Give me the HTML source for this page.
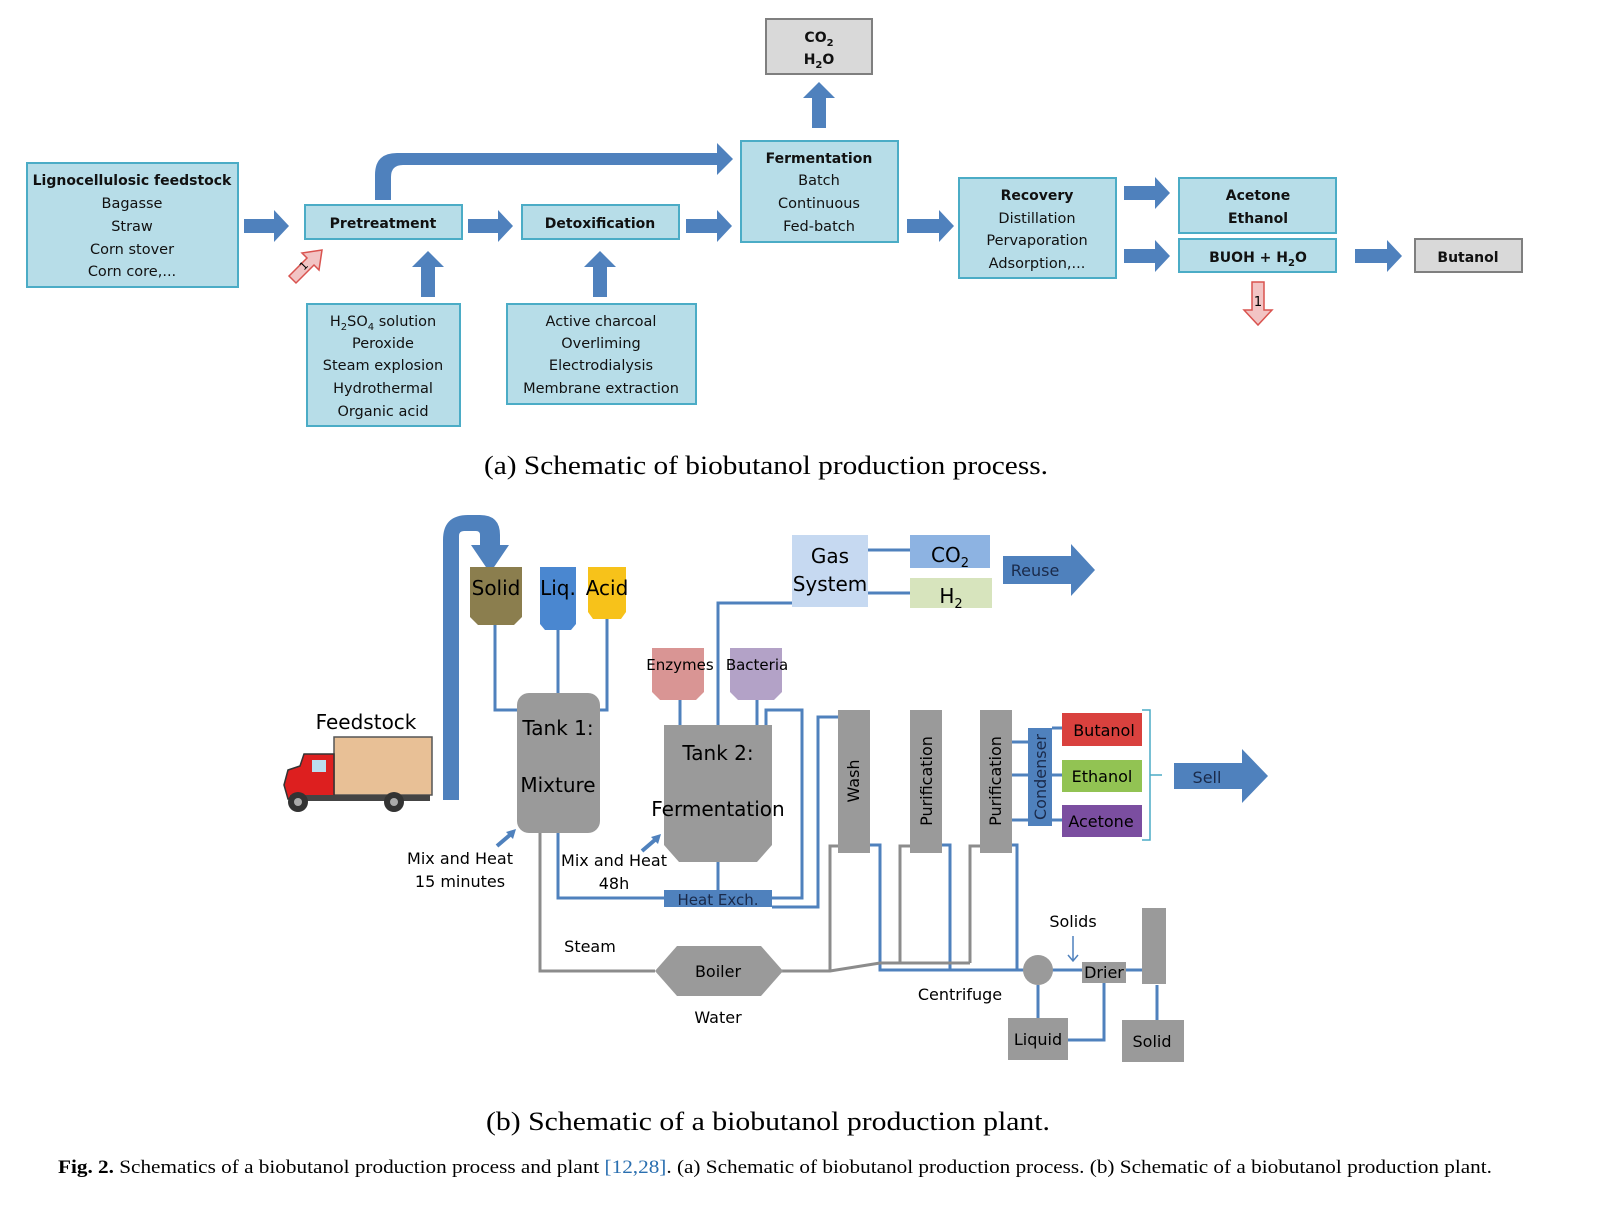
<!DOCTYPE html>
<html><head><meta charset="utf-8"><style>
html,body{margin:0;padding:0;background:#fff;}
svg{display:block;}
text{font-family:"DejaVu Sans","Liberation Sans",sans-serif;}
.t{font-size:14.5px;fill:#111;text-anchor:middle;}
.b{font-weight:bold;font-size:14px;}
.s{font-family:"Liberation Serif",serif;}
.box{fill:#b7dde8;stroke:#4bacc6;stroke-width:2;}
.gbox{fill:#d9d9d9;stroke:#7f7f7f;stroke-width:2;}
.arr{fill:#4f81bd;}
.bl{stroke:#4f81bd;stroke-width:3;fill:none;}
.gl{stroke:#8c8c8c;stroke-width:3;fill:none;}
.g{fill:#9a9a9a;}
</style></head><body>
<svg width="1600" height="1219" viewBox="0 0 1600 1219" xmlns="http://www.w3.org/2000/svg">
<rect class="box" x="27" y="163" width="211" height="124"/>
<text class="t b" x="132" y="185">Lignocellulosic feedstock</text>
<text class="t" x="132" y="208">Bagasse</text>
<text class="t" x="132" y="231">Straw</text>
<text class="t" x="132" y="254">Corn stover</text>
<text class="t" x="132" y="276">Corn core,...</text>

<rect class="box" x="305" y="205" width="157" height="34"/>
<text class="t b" x="383" y="228">Pretreatment</text>
<rect class="box" x="522" y="205" width="157" height="34"/>
<text class="t b" x="600" y="228">Detoxification</text>
<rect class="box" x="741" y="141" width="157" height="101"/>
<text class="t b" x="819" y="163">Fermentation</text>
<text class="t" x="819" y="185">Batch</text>
<text class="t" x="819" y="208">Continuous</text>
<text class="t" x="819" y="231">Fed-batch</text>
<rect class="box" x="959" y="178" width="157" height="100"/>
<text class="t b" x="1037" y="200">Recovery</text>
<text class="t" x="1037" y="223">Distillation</text>
<text class="t" x="1037" y="245">Pervaporation</text>
<text class="t" x="1037" y="268">Adsorption,...</text>
<rect class="box" x="1179" y="178" width="157" height="55"/>
<text class="t b" x="1258" y="200">Acetone</text>
<text class="t b" x="1258" y="223">Ethanol</text>
<rect class="box" x="1179" y="239" width="157" height="33"/>
<text class="t b" x="1258" y="262">BUOH + H<tspan font-size="10" dy="4">2</tspan><tspan dy="-4">O</tspan></text>
<rect class="gbox" x="1415" y="239" width="107" height="33"/>
<text class="t b" x="1468" y="262">Butanol</text>
<rect class="gbox" x="766" y="19" width="106" height="55"/>
<text class="t b" x="819" y="42">CO<tspan font-size="10" dy="4">2</tspan></text>
<text class="t b" x="819" y="64">H<tspan font-size="10" dy="4">2</tspan><tspan dy="-4">O</tspan></text>
<rect class="box" x="307" y="304" width="153" height="122"/>
<text class="t" x="383" y="326">H<tspan font-size="10" dy="4">2</tspan><tspan dy="-4">SO</tspan><tspan font-size="10" dy="4">4</tspan><tspan dy="-4"> solution</tspan></text>
<text class="t" x="383" y="348">Peroxide</text>
<text class="t" x="383" y="370">Steam explosion</text>
<text class="t" x="383" y="393">Hydrothermal</text>
<text class="t" x="383" y="416">Organic acid</text>
<rect class="box" x="507" y="304" width="189" height="100"/>
<text class="t" x="601" y="326">Active charcoal</text>
<text class="t" x="601" y="348">Overliming</text>
<text class="t" x="601" y="370">Electrodialysis</text>
<text class="t" x="601" y="393">Membrane extraction</text>

<g class="arr">
<path d="M244 219h30v-9l15 16-15 16v-9h-30z"/>
<path d="M468 219h30v-9l15 16-15 16v-9h-30z"/>
<path d="M686 219h31v-9l15 16-15 16v-9h-31z"/>
<path d="M907 219h32v-9l15 16-15 16v-9h-32z"/>
<path d="M1124 186h31v-9l15 16-15 16v-9h-31z"/>
<path d="M1124 249h31v-9l15 16-15 16v-9h-31z"/>
<path d="M1355 249h32v-9l15 16-15 16v-9h-32z"/>
<path d="M421 297v-30h-9l16-16 16 16h-9v30z"/>
<path d="M593 297v-30h-9l16-16 16 16h-9v30z"/>
<path d="M812 128v-30h-9l16-16 16 16h-9v30z"/>
<path d="M375 200v-25q0-22 22-22h320v-10l16 16-16 16v-10h-314q-12 0-12 12v23z"/>
</g>
<path d="M289 276l18-18-5-5 20-3-3 20-5-5-18 18z" fill="#f2c4c4" stroke="#d9534f" stroke-width="1.5"/>
<text x="301" y="272" font-size="11" transform="rotate(-45 301 268)">1</text>
<path d="M1252 282v28h-8l14 15 14-15h-8v-28z" fill="#f2c4c4" stroke="#d9534f" stroke-width="1.5"/>
<text x="1258" y="306" font-size="13" text-anchor="middle">1</text>

<text class="s" x="484" y="474" font-size="26" textLength="564" lengthAdjust="spacingAndGlyphs">(a) Schematic of biobutanol production process.</text>

<g class="bl">
<path d="M495 615v95h22"/>
<path d="M558 615v80"/>
<path d="M607 615v95h-8"/>
<path d="M680 695v30"/>
<path d="M757 695v30"/>
<path d="M718 725v-122h75"/>
<path d="M868 550h42M868 593h42"/>
<path d="M558 833v65h108"/>
<path d="M718 860v30"/>
<path d="M770 898h32v-188h-36v15"/>
<path d="M772 907h46v-190h20"/>
<path d="M868 845h12v125h145"/>
<path d="M938 845h12v125"/>
<path d="M1005 845h12v125"/>
<path d="M1010 742h20M1010 775h20M1010 820h20"/>
<path d="M1052 728h10M1052 775h10M1052 820h10"/>
<path d="M1052 970h30M1124 970h20"/>
<path d="M1038 985v55h-30"/>
<path d="M1104 980v60h-38"/>
<path d="M1157 985v35"/>
</g>
<g class="gl">
<path d="M540 833v138h115"/>
<path d="M780 971h50l50-8h90"/>
<path d="M830 971v-125h10"/>
<path d="M900 963v-117h12"/>
<path d="M970 963v-117h10"/>
</g>
<path d="M1142 710h8v130h-8M1150 775h12" stroke="#4bacc6" stroke-width="1.5" fill="none"/>

<path class="arr" d="M443 800v-260q0-25 25-25h12q20 0 20 20v10h9l-19 28-19-28h9v-10q0-4-4-4h-12q-5 0-5 5v264z"/>

<rect x="334" y="737" width="98" height="58" fill="#e8c096" stroke="#555" stroke-width="1.5"/>
<path d="M284 785l4-15 12-4 4-12 30 0v45h-46z" fill="#dd1f1f" stroke="#333" stroke-width="1.5"/>
<rect x="312" y="760" width="14" height="12" fill="#bde"/>
<rect x="290" y="795" width="140" height="6" fill="#444"/>
<circle cx="298" cy="802" r="10" fill="#333"/><circle cx="298" cy="802" r="4" fill="#aaa"/>
<circle cx="394" cy="802" r="10" fill="#333"/><circle cx="394" cy="802" r="4" fill="#aaa"/>
<text x="366" y="729" font-size="20" text-anchor="middle">Feedstock</text>

<path d="M470 567h52v50l-8 8h-36l-8-8z" fill="#8b7e4e"/>
<text x="496" y="595" font-size="20" text-anchor="middle">Solid</text>
<path d="M540 567h36v57l-5 6h-26l-5-6z" fill="#4a87d0"/>
<text x="558" y="595" font-size="20" text-anchor="middle">Liq.</text>
<path d="M588 567h38v45l-5 7h-28l-5-7z" fill="#f7c21a"/>
<text x="607" y="595" font-size="20" text-anchor="middle">Acid</text>
<path d="M652 648h52v44l-8 8h-36l-8-8z" fill="#d99594"/>
<text x="680" y="670" font-size="15" text-anchor="middle">Enzymes</text>
<path d="M730 648h52v44l-8 8h-36l-8-8z" fill="#b3a2c7"/>
<text x="757" y="670" font-size="15" text-anchor="middle">Bacteria</text>

<rect x="517" y="693" width="83" height="140" rx="12" class="g"/>
<text x="558" y="735" font-size="20" text-anchor="middle">Tank 1:</text>
<text x="558" y="792" font-size="20" text-anchor="middle">Mixture</text>
<path d="M664 725h108v120l-15 17h-78l-15-17z" class="g"/>
<text x="718" y="760" font-size="20" text-anchor="middle">Tank 2:</text>
<text x="718" y="816" font-size="20" text-anchor="middle">Fermentation</text>
<path d="M497 846l14-12" stroke="#4f81bd" stroke-width="4"/><path d="M516 829l-3 10-7-7z" fill="#4f81bd"/>
<path d="M642 851l14-12" stroke="#4f81bd" stroke-width="4"/><path d="M661 834l-3 10-7-7z" fill="#4f81bd"/>
<text x="460" y="864" font-size="16" text-anchor="middle">Mix and Heat</text>
<text x="460" y="887" font-size="16" text-anchor="middle">15 minutes</text>
<text x="614" y="866" font-size="16" text-anchor="middle">Mix and Heat</text>
<text x="614" y="889" font-size="16" text-anchor="middle">48h</text>
<rect x="664" y="890" width="108" height="17" fill="#4f81bd"/>
<text x="718" y="905" font-size="15" text-anchor="middle" fill="#1a2a4a">Heat Exch.</text>

<rect x="792" y="535" width="76" height="72" fill="#c6d9f1"/>
<text x="830" y="563" font-size="20" text-anchor="middle">Gas</text>
<text x="830" y="591" font-size="20" text-anchor="middle">System</text>
<rect x="910" y="535" width="80" height="33" fill="#8db3e2"/>
<text x="950" y="562" font-size="20" text-anchor="middle">CO<tspan font-size="13" dy="5">2</tspan></text>
<rect x="910" y="578" width="82" height="30" fill="#d7e4bd"/>
<text x="951" y="603" font-size="20" text-anchor="middle">H<tspan font-size="13" dy="5">2</tspan></text>
<path class="arr" d="M1003 556h68v-12l24 26-24 26v-12h-68z"/>
<text x="1035" y="576" font-size="16" text-anchor="middle" fill="#1a2a4a">Reuse</text>

<rect x="838" y="710" width="32" height="143" class="g"/>
<text font-size="16" transform="translate(859 781) rotate(-90)" text-anchor="middle">Wash</text>
<rect x="910" y="710" width="32" height="143" class="g"/>
<text font-size="16" transform="translate(932 781) rotate(-90)" text-anchor="middle">Purification</text>
<rect x="980" y="710" width="32" height="143" class="g"/>
<text font-size="16" transform="translate(1001 781) rotate(-90)" text-anchor="middle">Purification</text>
<rect x="1028" y="728" width="24" height="98" fill="#4f81bd"/>
<text font-size="16" fill="#1a2a4a" transform="translate(1046 777) rotate(-90)" text-anchor="middle">Condenser</text>
<rect x="1062" y="713" width="80" height="33" fill="#d9413e"/>
<text x="1104" y="736" font-size="16" text-anchor="middle">Butanol</text>
<rect x="1062" y="760" width="80" height="32" fill="#92c353"/>
<text x="1102" y="782" font-size="16" text-anchor="middle">Ethanol</text>
<rect x="1062" y="805" width="80" height="32" fill="#7b4ea0"/>
<text x="1101" y="827" font-size="16" text-anchor="middle">Acetone</text>
<path class="arr" d="M1174 763h68v-14l26 27-26 27v-14h-68z"/>
<text x="1207" y="783" font-size="16" text-anchor="middle" fill="#1a2a4a">Sell</text>

<path d="M655 971l22-25h84l22 25-22 25h-84z" class="g"/>
<text x="718" y="977" font-size="16" text-anchor="middle">Boiler</text>
<text x="590" y="952" font-size="16" text-anchor="middle">Steam</text>
<text x="718" y="1023" font-size="16" text-anchor="middle">Water</text>
<text x="960" y="1000" font-size="16" text-anchor="middle">Centrifuge</text>
<circle cx="1038" cy="970" r="15" class="g"/>
<text x="1073" y="927" font-size="16" text-anchor="middle">Solids</text>
<path d="M1073 936v24M1068 955l5 6 5-6" stroke="#4f81bd" stroke-width="1.5" fill="none"/>
<rect x="1082" y="962" width="44" height="21" class="g"/>
<text x="1104" y="978" font-size="16" text-anchor="middle">Drier</text>
<rect x="1142" y="908" width="24" height="76" class="g"/>
<rect x="1008" y="1018" width="60" height="42" class="g"/>
<text x="1038" y="1045" font-size="16" text-anchor="middle">Liquid</text>
<rect x="1122" y="1020" width="62" height="42" class="g"/>
<text x="1152" y="1047" font-size="16" text-anchor="middle">Solid</text>

<text class="s" x="486" y="1130" font-size="26" textLength="564" lengthAdjust="spacingAndGlyphs">(b) Schematic of a biobutanol production plant.</text>
<text class="s" x="58" y="1173" font-size="19" textLength="1434" lengthAdjust="spacingAndGlyphs"><tspan font-weight="bold">Fig. 2.</tspan> Schematics of a biobutanol production process and plant <tspan fill="#2a6fb0">[12,28]</tspan>. (a) Schematic of biobutanol production process. (b) Schematic of a biobutanol production plant.</text>
</svg>
</body></html>
